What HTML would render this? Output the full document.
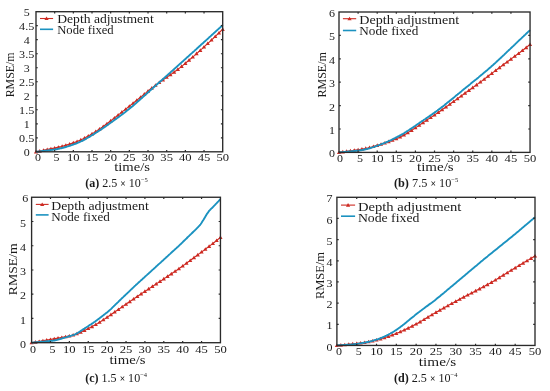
<!DOCTYPE html>
<html><head><meta charset="utf-8"><style>
html,body{margin:0;padding:0;background:#fff;}
svg{display:block;}
text{font-family:'Liberation Serif', serif;fill:#1a1a1a;}
.tk{font-size:10.3px;}
.al{font-size:12px;}
.lg{font-size:11.6px;}
.cap{font-size:12.6px;}
.x{font-size:10px;font-weight:bold;}
.sup{font-size:6.8px;}
</style></head><body>
<svg width="550" height="391" viewBox="0 0 550 391">
<rect width="550" height="391" fill="#fff"/>
<g><polyline points="36.0,151.8 36.9,151.6 37.9,151.4 38.8,151.2 39.7,151.0 40.7,150.8 41.6,150.7 42.5,150.5 43.5,150.3 44.4,150.1 45.3,149.9 46.3,149.7 47.2,149.5 48.1,149.3 49.1,149.1 50.0,148.9 50.9,148.8 51.9,148.6 52.8,148.4 53.7,148.2 54.7,148.0 55.6,147.8 56.5,147.6 57.5,147.4 58.4,147.1 59.3,146.9 60.3,146.7 61.2,146.5 62.1,146.2 63.1,146.0 64.0,145.7 64.9,145.4 65.9,145.2 66.8,144.9 67.7,144.6 68.7,144.3 69.6,144.0 70.5,143.7 71.5,143.4 72.4,143.1 73.3,142.8 74.3,142.5 75.2,142.1 76.1,141.8 77.1,141.4 78.0,141.1 78.9,140.7 79.9,140.3 80.8,139.8 81.7,139.4 82.7,139.0 83.6,138.5 84.5,138.0 85.5,137.5 86.4,137.0 87.3,136.5 88.3,136.0 89.2,135.4 90.1,134.9 91.1,134.3 92.0,133.8 92.9,133.2 93.9,132.7 94.8,132.1 95.7,131.5 96.7,130.9 97.6,130.3 98.5,129.7 99.5,129.0 100.4,128.4 101.3,127.7 102.3,127.1 103.2,126.4 104.1,125.7 105.1,125.0 106.0,124.3 106.9,123.6 107.9,122.9 108.8,122.2 109.7,121.5 110.7,120.8 111.6,120.1 112.5,119.4 113.5,118.6 114.4,117.9 115.3,117.2 116.3,116.5 117.2,115.8 118.1,115.0 119.1,114.3 120.0,113.6 120.9,112.8 121.9,112.1 122.8,111.4 123.7,110.6 124.7,109.9 125.6,109.2 126.5,108.4 127.5,107.7 128.4,106.9 129.3,106.2 130.3,105.5 131.2,104.7 132.2,104.0 133.1,103.2 134.0,102.5 135.0,101.7 135.9,101.0 136.8,100.2 137.8,99.5 138.7,98.7 139.6,97.9 140.6,97.2 141.5,96.4 142.4,95.6 143.4,94.9 144.3,94.1 145.2,93.3 146.2,92.6 147.1,91.8 148.0,91.0 149.0,90.3 149.9,89.5 150.8,88.8 151.8,88.1 152.7,87.3 153.6,86.6 154.6,85.9 155.5,85.2 156.4,84.5 157.4,83.8 158.3,83.1 159.2,82.5 160.2,81.8 161.1,81.1 162.0,80.5 163.0,79.8 163.9,79.2 164.8,78.5 165.8,77.9 166.7,77.2 167.6,76.6 168.6,76.0 169.5,75.3 170.4,74.7 171.4,74.0 172.3,73.4 173.2,72.7 174.2,72.1 175.1,71.4 176.0,70.7 177.0,70.0 177.9,69.3 178.8,68.6 179.8,67.9 180.7,67.1 181.6,66.4 182.6,65.6 183.5,64.8 184.4,64.1 185.4,63.3 186.3,62.5 187.2,61.7 188.2,60.9 189.1,60.1 190.0,59.3 191.0,58.5 191.9,57.7 192.8,56.9 193.8,56.1 194.7,55.3 195.6,54.4 196.6,53.6 197.5,52.8 198.4,52.0 199.4,51.1 200.3,50.3 201.2,49.4 202.2,48.6 203.1,47.8 204.0,46.9 205.0,46.1 205.9,45.2 206.8,44.3 207.8,43.5 208.7,42.6 209.6,41.8 210.6,40.9 211.5,40.0 212.4,39.1 213.4,38.3 214.3,37.4 215.2,36.5 216.2,35.6 217.1,34.7 218.0,33.8 219.0,32.9 219.9,32.0 220.8,31.1 221.8,30.2 222.7,29.3" fill="none" stroke="#CD2A22" stroke-width="1.1"/>
<path d="M36.00 149.80l2.1 3.6h-4.2zM39.73 149.04l2.1 3.6h-4.2zM43.47 148.28l2.1 3.6h-4.2zM47.20 147.52l2.1 3.6h-4.2zM50.94 146.75l2.1 3.6h-4.2zM54.67 145.97l2.1 3.6h-4.2zM58.40 145.14l2.1 3.6h-4.2zM62.14 144.21l2.1 3.6h-4.2zM65.87 143.17l2.1 3.6h-4.2zM69.61 142.03l2.1 3.6h-4.2zM73.34 140.80l2.1 3.6h-4.2zM77.07 139.43l2.1 3.6h-4.2zM80.81 137.84l2.1 3.6h-4.2zM84.54 136.00l2.1 3.6h-4.2zM88.28 133.96l2.1 3.6h-4.2zM92.01 131.79l2.1 3.6h-4.2zM95.74 129.49l2.1 3.6h-4.2zM99.48 127.03l2.1 3.6h-4.2zM103.21 124.39l2.1 3.6h-4.2zM106.95 121.63l2.1 3.6h-4.2zM110.68 118.79l2.1 3.6h-4.2zM114.41 115.92l2.1 3.6h-4.2zM118.15 113.03l2.1 3.6h-4.2zM121.88 110.10l2.1 3.6h-4.2zM125.62 107.16l2.1 3.6h-4.2zM129.35 104.20l2.1 3.6h-4.2zM133.08 101.22l2.1 3.6h-4.2zM136.82 98.21l2.1 3.6h-4.2zM140.55 95.17l2.1 3.6h-4.2zM144.29 92.10l2.1 3.6h-4.2zM148.02 89.04l2.1 3.6h-4.2zM151.75 86.07l2.1 3.6h-4.2zM155.49 83.21l2.1 3.6h-4.2zM159.22 80.47l2.1 3.6h-4.2zM162.96 77.82l2.1 3.6h-4.2zM166.69 75.24l2.1 3.6h-4.2zM170.42 72.67l2.1 3.6h-4.2zM174.16 70.05l2.1 3.6h-4.2zM177.89 67.30l2.1 3.6h-4.2zM181.63 64.37l2.1 3.6h-4.2zM185.36 61.28l2.1 3.6h-4.2zM189.09 58.11l2.1 3.6h-4.2zM192.83 54.89l2.1 3.6h-4.2zM196.56 51.61l2.1 3.6h-4.2zM200.30 48.28l2.1 3.6h-4.2zM204.03 44.90l2.1 3.6h-4.2zM207.76 41.48l2.1 3.6h-4.2zM211.50 38.02l2.1 3.6h-4.2zM215.23 34.50l2.1 3.6h-4.2zM218.97 30.94l2.1 3.6h-4.2zM222.70 27.35l2.1 3.6h-4.2z" fill="#CD2A22"/>
<polyline points="36.0,151.8 36.9,151.7 37.9,151.6 38.8,151.5 39.7,151.4 40.7,151.3 41.6,151.1 42.5,151.0 43.5,150.9 44.4,150.8 45.3,150.7 46.3,150.6 47.2,150.5 48.1,150.4 49.1,150.3 50.0,150.1 50.9,150.0 51.9,149.9 52.8,149.8 53.7,149.6 54.7,149.5 55.6,149.4 56.5,149.2 57.5,149.0 58.4,148.8 59.3,148.7 60.3,148.4 61.2,148.2 62.1,148.0 63.1,147.7 64.0,147.5 64.9,147.2 65.9,147.0 66.8,146.7 67.7,146.4 68.7,146.1 69.6,145.8 70.5,145.5 71.5,145.2 72.4,144.8 73.3,144.5 74.3,144.2 75.2,143.8 76.1,143.5 77.1,143.1 78.0,142.7 78.9,142.3 79.9,141.9 80.8,141.5 81.7,141.0 82.7,140.6 83.6,140.1 84.5,139.6 85.5,139.1 86.4,138.5 87.3,138.0 88.3,137.5 89.2,136.9 90.1,136.4 91.1,135.8 92.0,135.2 92.9,134.7 93.9,134.1 94.8,133.5 95.7,132.9 96.7,132.3 97.6,131.7 98.5,131.1 99.5,130.5 100.4,129.9 101.3,129.3 102.3,128.6 103.2,128.0 104.1,127.4 105.1,126.7 106.0,126.1 106.9,125.4 107.9,124.8 108.8,124.1 109.7,123.4 110.7,122.8 111.6,122.1 112.5,121.4 113.5,120.8 114.4,120.1 115.3,119.4 116.3,118.7 117.2,118.0 118.1,117.4 119.1,116.7 120.0,116.0 120.9,115.3 121.9,114.6 122.8,113.9 123.7,113.2 124.7,112.5 125.6,111.8 126.5,111.0 127.5,110.3 128.4,109.6 129.3,108.8 130.3,108.0 131.2,107.3 132.2,106.5 133.1,105.7 134.0,104.9 135.0,104.1 135.9,103.3 136.8,102.4 137.8,101.6 138.7,100.8 139.6,100.0 140.6,99.1 141.5,98.3 142.4,97.4 143.4,96.6 144.3,95.8 145.2,94.9 146.2,94.1 147.1,93.3 148.0,92.4 149.0,91.6 149.9,90.7 150.8,89.9 151.8,89.1 152.7,88.2 153.6,87.4 154.6,86.6 155.5,85.7 156.4,84.9 157.4,84.1 158.3,83.2 159.2,82.4 160.2,81.6 161.1,80.7 162.0,79.9 163.0,79.1 163.9,78.3 164.8,77.4 165.8,76.6 166.7,75.8 167.6,74.9 168.6,74.1 169.5,73.3 170.4,72.4 171.4,71.6 172.3,70.8 173.2,69.9 174.2,69.1 175.1,68.2 176.0,67.4 177.0,66.6 177.9,65.7 178.8,64.9 179.8,64.0 180.7,63.2 181.6,62.4 182.6,61.5 183.5,60.7 184.4,59.8 185.4,59.0 186.3,58.1 187.2,57.3 188.2,56.5 189.1,55.6 190.0,54.8 191.0,53.9 191.9,53.1 192.8,52.2 193.8,51.4 194.7,50.6 195.6,49.7 196.6,48.9 197.5,48.0 198.4,47.2 199.4,46.3 200.3,45.5 201.2,44.6 202.2,43.8 203.1,43.0 204.0,42.1 205.0,41.3 205.9,40.4 206.8,39.6 207.8,38.7 208.7,37.9 209.6,37.0 210.6,36.2 211.5,35.3 212.4,34.5 213.4,33.6 214.3,32.8 215.2,31.9 216.2,31.1 217.1,30.2 218.0,29.4 219.0,28.5 219.9,27.7 220.8,26.8 221.8,26.0 222.7,25.1" fill="none" stroke="#1B92C0" stroke-width="1.9" stroke-linejoin="round"/>
<rect x="36.00" y="11.70" width="186.70" height="140.10" fill="none" stroke="#2a2a2a" stroke-width="1.35"/>
<path d="M54.67 151.80v-1.8M54.67 11.70v1.8M73.34 151.80v-1.8M73.34 11.70v1.8M92.01 151.80v-1.8M92.01 11.70v1.8M110.68 151.80v-1.8M110.68 11.70v1.8M129.35 151.80v-1.8M129.35 11.70v1.8M148.02 151.80v-1.8M148.02 11.70v1.8M166.69 151.80v-1.8M166.69 11.70v1.8M185.36 151.80v-1.8M185.36 11.70v1.8M204.03 151.80v-1.8M204.03 11.70v1.8M36.00 137.79h1.8M222.70 137.79h-1.8M36.00 123.78h1.8M222.70 123.78h-1.8M36.00 109.77h1.8M222.70 109.77h-1.8M36.00 95.76h1.8M222.70 95.76h-1.8M36.00 81.75h1.8M222.70 81.75h-1.8M36.00 67.74h1.8M222.70 67.74h-1.8M36.00 53.73h1.8M222.70 53.73h-1.8M36.00 39.72h1.8M222.70 39.72h-1.8M36.00 25.71h1.8M222.70 25.71h-1.8" stroke="#2a2a2a" stroke-width="1.2" fill="none"/>
<text x="26.70" y="156.20" class="tk" style="font-size:10.3px" text-anchor="middle" textLength="6.0" lengthAdjust="spacingAndGlyphs">0</text>
<text x="26.70" y="142.19" class="tk" style="font-size:10.3px" text-anchor="middle" textLength="15.2" lengthAdjust="spacingAndGlyphs">0.5</text>
<text x="26.70" y="128.18" class="tk" style="font-size:10.3px" text-anchor="middle" textLength="6.0" lengthAdjust="spacingAndGlyphs">1</text>
<text x="26.70" y="114.17" class="tk" style="font-size:10.3px" text-anchor="middle" textLength="15.2" lengthAdjust="spacingAndGlyphs">1.5</text>
<text x="26.70" y="100.16" class="tk" style="font-size:10.3px" text-anchor="middle" textLength="6.0" lengthAdjust="spacingAndGlyphs">2</text>
<text x="26.70" y="86.15" class="tk" style="font-size:10.3px" text-anchor="middle" textLength="15.2" lengthAdjust="spacingAndGlyphs">2.5</text>
<text x="26.70" y="72.14" class="tk" style="font-size:10.3px" text-anchor="middle" textLength="6.0" lengthAdjust="spacingAndGlyphs">3</text>
<text x="26.70" y="58.13" class="tk" style="font-size:10.3px" text-anchor="middle" textLength="15.2" lengthAdjust="spacingAndGlyphs">3.5</text>
<text x="26.70" y="44.12" class="tk" style="font-size:10.3px" text-anchor="middle" textLength="6.0" lengthAdjust="spacingAndGlyphs">4</text>
<text x="26.70" y="30.11" class="tk" style="font-size:10.3px" text-anchor="middle" textLength="15.2" lengthAdjust="spacingAndGlyphs">4.5</text>
<text x="26.70" y="16.10" class="tk" style="font-size:10.3px" text-anchor="middle" textLength="6.0" lengthAdjust="spacingAndGlyphs">5</text>
<text x="38.00" y="161.00" class="tk" style="font-size:10.3px" text-anchor="middle" textLength="6.0" lengthAdjust="spacingAndGlyphs">0</text>
<text x="56.50" y="161.00" class="tk" style="font-size:10.3px" text-anchor="middle" textLength="6.0" lengthAdjust="spacingAndGlyphs">5</text>
<text x="73.34" y="161.00" class="tk" style="font-size:10.3px" text-anchor="middle" textLength="12.6" lengthAdjust="spacingAndGlyphs">10</text>
<text x="92.01" y="161.00" class="tk" style="font-size:10.3px" text-anchor="middle" textLength="12.6" lengthAdjust="spacingAndGlyphs">15</text>
<text x="110.68" y="161.00" class="tk" style="font-size:10.3px" text-anchor="middle" textLength="12.6" lengthAdjust="spacingAndGlyphs">20</text>
<text x="129.35" y="161.00" class="tk" style="font-size:10.3px" text-anchor="middle" textLength="12.6" lengthAdjust="spacingAndGlyphs">25</text>
<text x="148.02" y="161.00" class="tk" style="font-size:10.3px" text-anchor="middle" textLength="12.6" lengthAdjust="spacingAndGlyphs">30</text>
<text x="166.69" y="161.00" class="tk" style="font-size:10.3px" text-anchor="middle" textLength="12.6" lengthAdjust="spacingAndGlyphs">35</text>
<text x="185.36" y="161.00" class="tk" style="font-size:10.3px" text-anchor="middle" textLength="12.6" lengthAdjust="spacingAndGlyphs">40</text>
<text x="204.03" y="161.00" class="tk" style="font-size:10.3px" text-anchor="middle" textLength="12.6" lengthAdjust="spacingAndGlyphs">45</text>
<text x="222.70" y="161.00" class="tk" style="font-size:10.3px" text-anchor="middle" textLength="12.6" lengthAdjust="spacingAndGlyphs">50</text>
<text x="114.20" y="170.50" class="al" textLength="35.9" lengthAdjust="spacingAndGlyphs">time/s</text>
<text transform="translate(14.30 97.30) rotate(-90)" class="al" textLength="44.9" lengthAdjust="spacingAndGlyphs">RMSE/m</text>
<path d="M40.00 18.50H53.10" stroke="#CD2A22" stroke-width="1.1"/>
<path d="M46.55 16.50l2.1 3.6h-4.2z" fill="#CD2A22"/>
<path d="M40.00 29.30H53.10" stroke="#1B92C0" stroke-width="1.6"/>
<text x="57.20" y="23.40" class="lg" textLength="96.5" lengthAdjust="spacingAndGlyphs">Depth adjustment</text>
<text x="57.20" y="33.70" class="lg" textLength="56.5" lengthAdjust="spacingAndGlyphs">Node fixed</text>
<text x="85.20" y="186.90" class="cap" textLength="62.6" lengthAdjust="spacingAndGlyphs"><tspan font-weight="bold">(a)</tspan> 2.5 <tspan class="x">×</tspan> 10<tspan class="sup" dy="-4.8">−5</tspan></text></g>
<g><polyline points="339.0,152.4 340.0,152.3 340.9,152.1 341.9,152.0 342.8,151.9 343.8,151.7 344.7,151.6 345.7,151.5 346.6,151.3 347.6,151.2 348.6,151.1 349.5,150.9 350.5,150.8 351.4,150.7 352.4,150.5 353.3,150.4 354.3,150.2 355.2,150.1 356.2,150.0 357.1,149.8 358.1,149.7 359.1,149.5 360.0,149.4 361.0,149.2 361.9,149.1 362.9,148.9 363.8,148.7 364.8,148.6 365.7,148.4 366.7,148.2 367.7,148.0 368.6,147.7 369.6,147.5 370.5,147.3 371.5,147.0 372.4,146.7 373.4,146.5 374.3,146.2 375.3,145.9 376.3,145.6 377.2,145.4 378.2,145.1 379.1,144.8 380.1,144.5 381.0,144.2 382.0,143.8 382.9,143.5 383.9,143.2 384.9,142.9 385.8,142.6 386.8,142.2 387.7,141.9 388.7,141.6 389.6,141.2 390.6,140.9 391.5,140.5 392.5,140.1 393.4,139.8 394.4,139.4 395.4,139.0 396.3,138.6 397.3,138.2 398.2,137.8 399.2,137.4 400.1,136.9 401.1,136.5 402.0,136.0 403.0,135.5 404.0,135.0 404.9,134.4 405.9,133.9 406.8,133.3 407.8,132.7 408.7,132.1 409.7,131.5 410.6,130.9 411.6,130.3 412.6,129.7 413.5,129.0 414.5,128.4 415.4,127.8 416.4,127.1 417.3,126.5 418.3,125.9 419.2,125.2 420.2,124.6 421.2,123.9 422.1,123.3 423.1,122.6 424.0,122.0 425.0,121.4 425.9,120.7 426.9,120.1 427.8,119.4 428.8,118.8 429.7,118.2 430.7,117.5 431.7,116.9 432.6,116.2 433.6,115.6 434.5,114.9 435.5,114.3 436.4,113.6 437.4,113.0 438.3,112.3 439.3,111.7 440.3,111.0 441.2,110.3 442.2,109.7 443.1,109.0 444.1,108.3 445.0,107.7 446.0,107.0 446.9,106.3 447.9,105.6 448.9,104.9 449.8,104.2 450.8,103.5 451.7,102.8 452.7,102.2 453.6,101.5 454.6,100.8 455.5,100.1 456.5,99.4 457.5,98.7 458.4,98.0 459.4,97.3 460.3,96.6 461.3,95.9 462.2,95.2 463.2,94.5 464.1,93.8 465.1,93.1 466.0,92.4 467.0,91.7 468.0,91.0 468.9,90.3 469.9,89.7 470.8,89.0 471.8,88.3 472.7,87.6 473.7,86.9 474.6,86.2 475.6,85.5 476.6,84.8 477.5,84.1 478.5,83.4 479.4,82.7 480.4,82.0 481.3,81.3 482.3,80.6 483.2,79.9 484.2,79.2 485.2,78.4 486.1,77.7 487.1,77.0 488.0,76.3 489.0,75.5 489.9,74.8 490.9,74.1 491.8,73.3 492.8,72.6 493.8,71.9 494.7,71.2 495.7,70.5 496.6,69.7 497.6,69.0 498.5,68.3 499.5,67.6 500.4,66.9 501.4,66.2 502.3,65.4 503.3,64.7 504.3,64.0 505.2,63.3 506.2,62.6 507.1,61.9 508.1,61.2 509.0,60.5 510.0,59.8 510.9,59.1 511.9,58.4 512.9,57.6 513.8,56.9 514.8,56.2 515.7,55.5 516.7,54.8 517.6,54.1 518.6,53.4 519.5,52.7 520.5,52.0 521.5,51.2 522.4,50.5 523.4,49.8 524.3,49.0 525.3,48.3 526.2,47.5 527.2,46.8 528.1,46.0 529.1,45.2 530.0,44.4" fill="none" stroke="#CD2A22" stroke-width="1.1"/>
<path d="M339.00 150.40l2.1 3.6h-4.2zM342.82 149.86l2.1 3.6h-4.2zM346.64 149.32l2.1 3.6h-4.2zM350.46 148.79l2.1 3.6h-4.2zM354.28 148.25l2.1 3.6h-4.2zM358.11 147.69l2.1 3.6h-4.2zM361.93 147.09l2.1 3.6h-4.2zM365.75 146.37l2.1 3.6h-4.2zM369.57 145.50l2.1 3.6h-4.2zM373.39 144.48l2.1 3.6h-4.2zM377.21 143.35l2.1 3.6h-4.2zM381.03 142.16l2.1 3.6h-4.2zM384.85 140.90l2.1 3.6h-4.2zM388.67 139.56l2.1 3.6h-4.2zM392.49 138.14l2.1 3.6h-4.2zM396.31 136.62l2.1 3.6h-4.2zM400.14 134.93l2.1 3.6h-4.2zM403.96 132.97l2.1 3.6h-4.2zM407.78 130.74l2.1 3.6h-4.2zM411.60 128.30l2.1 3.6h-4.2zM415.42 125.77l2.1 3.6h-4.2zM419.24 123.21l2.1 3.6h-4.2zM423.06 120.65l2.1 3.6h-4.2zM426.88 118.08l2.1 3.6h-4.2zM430.70 115.51l2.1 3.6h-4.2zM434.52 112.93l2.1 3.6h-4.2zM438.35 110.33l2.1 3.6h-4.2zM442.17 107.68l2.1 3.6h-4.2zM445.99 104.98l2.1 3.6h-4.2zM449.81 102.23l2.1 3.6h-4.2zM453.63 99.46l2.1 3.6h-4.2zM457.45 96.67l2.1 3.6h-4.2zM461.27 93.89l2.1 3.6h-4.2zM465.09 91.11l2.1 3.6h-4.2zM468.91 88.34l2.1 3.6h-4.2zM472.73 85.58l2.1 3.6h-4.2zM476.56 82.81l2.1 3.6h-4.2zM480.38 80.01l2.1 3.6h-4.2zM484.20 77.15l2.1 3.6h-4.2zM488.02 74.26l2.1 3.6h-4.2zM491.84 71.35l2.1 3.6h-4.2zM495.66 68.45l2.1 3.6h-4.2zM499.48 65.59l2.1 3.6h-4.2zM503.30 62.74l2.1 3.6h-4.2zM507.12 59.90l2.1 3.6h-4.2zM510.94 57.07l2.1 3.6h-4.2zM514.77 54.23l2.1 3.6h-4.2zM518.59 51.39l2.1 3.6h-4.2zM522.41 48.51l2.1 3.6h-4.2zM526.23 45.54l2.1 3.6h-4.2zM530.05 42.42l2.1 3.6h-4.2z" fill="#CD2A22"/>
<polyline points="339.0,152.4 340.0,152.3 340.9,152.2 341.9,152.1 342.8,152.1 343.8,152.0 344.7,151.9 345.7,151.8 346.6,151.7 347.6,151.6 348.6,151.5 349.5,151.5 350.5,151.4 351.4,151.3 352.4,151.2 353.3,151.1 354.3,151.0 355.2,150.9 356.2,150.8 357.1,150.7 358.1,150.6 359.1,150.5 360.0,150.4 361.0,150.2 361.9,150.1 362.9,149.9 363.8,149.7 364.8,149.5 365.7,149.3 366.7,149.1 367.7,148.8 368.6,148.6 369.6,148.3 370.5,148.0 371.5,147.7 372.4,147.4 373.4,147.1 374.3,146.8 375.3,146.4 376.3,146.1 377.2,145.7 378.2,145.4 379.1,145.1 380.1,144.7 381.0,144.3 382.0,144.0 382.9,143.6 383.9,143.2 384.9,142.8 385.8,142.4 386.8,142.0 387.7,141.6 388.7,141.1 389.6,140.7 390.6,140.3 391.5,139.8 392.5,139.3 393.4,138.9 394.4,138.4 395.4,137.9 396.3,137.4 397.3,136.9 398.2,136.4 399.2,135.9 400.1,135.4 401.1,134.9 402.0,134.3 403.0,133.8 404.0,133.2 404.9,132.6 405.9,132.0 406.8,131.4 407.8,130.8 408.7,130.2 409.7,129.5 410.6,128.9 411.6,128.3 412.6,127.6 413.5,127.0 414.5,126.3 415.4,125.7 416.4,125.0 417.3,124.4 418.3,123.7 419.2,123.1 420.2,122.4 421.2,121.8 422.1,121.1 423.1,120.5 424.0,119.8 425.0,119.2 425.9,118.5 426.9,117.9 427.8,117.2 428.8,116.6 429.7,115.9 430.7,115.2 431.7,114.6 432.6,113.9 433.6,113.2 434.5,112.6 435.5,111.9 436.4,111.2 437.4,110.5 438.3,109.8 439.3,109.1 440.3,108.4 441.2,107.6 442.2,106.9 443.1,106.2 444.1,105.4 445.0,104.6 446.0,103.9 446.9,103.1 447.9,102.3 448.9,101.6 449.8,100.8 450.8,100.0 451.7,99.2 452.7,98.4 453.6,97.7 454.6,96.9 455.5,96.1 456.5,95.3 457.5,94.5 458.4,93.7 459.4,93.0 460.3,92.2 461.3,91.4 462.2,90.6 463.2,89.8 464.1,89.0 465.1,88.3 466.0,87.5 467.0,86.7 468.0,85.9 468.9,85.2 469.9,84.4 470.8,83.6 471.8,82.8 472.7,82.1 473.7,81.3 474.6,80.5 475.6,79.7 476.6,79.0 477.5,78.2 478.5,77.4 479.4,76.6 480.4,75.8 481.3,75.0 482.3,74.2 483.2,73.4 484.2,72.6 485.2,71.8 486.1,71.0 487.1,70.2 488.0,69.4 489.0,68.5 489.9,67.7 490.9,66.9 491.8,66.0 492.8,65.2 493.8,64.3 494.7,63.5 495.7,62.6 496.6,61.7 497.6,60.8 498.5,59.9 499.5,59.1 500.4,58.2 501.4,57.3 502.3,56.4 503.3,55.5 504.3,54.6 505.2,53.6 506.2,52.7 507.1,51.8 508.1,50.9 509.0,50.0 510.0,49.1 510.9,48.2 511.9,47.3 512.9,46.4 513.8,45.5 514.8,44.6 515.7,43.6 516.7,42.7 517.6,41.8 518.6,40.9 519.5,40.0 520.5,39.1 521.5,38.2 522.4,37.3 523.4,36.4 524.3,35.5 525.3,34.6 526.2,33.7 527.2,32.8 528.1,31.9 529.1,31.0 530.0,30.1" fill="none" stroke="#1B92C0" stroke-width="1.9" stroke-linejoin="round"/>
<rect x="339.00" y="12.00" width="191.05" height="140.40" fill="none" stroke="#2a2a2a" stroke-width="1.35"/>
<path d="M358.11 152.40v-1.8M358.11 12.00v1.8M377.21 152.40v-1.8M377.21 12.00v1.8M396.31 152.40v-1.8M396.31 12.00v1.8M415.42 152.40v-1.8M415.42 12.00v1.8M434.52 152.40v-1.8M434.52 12.00v1.8M453.63 152.40v-1.8M453.63 12.00v1.8M472.73 152.40v-1.8M472.73 12.00v1.8M491.84 152.40v-1.8M491.84 12.00v1.8M510.94 152.40v-1.8M510.94 12.00v1.8M339.00 129.00h1.8M530.05 129.00h-1.8M339.00 105.60h1.8M530.05 105.60h-1.8M339.00 82.20h1.8M530.05 82.20h-1.8M339.00 58.80h1.8M530.05 58.80h-1.8M339.00 35.40h1.8M530.05 35.40h-1.8" stroke="#2a2a2a" stroke-width="1.2" fill="none"/>
<text x="332.00" y="157.40" class="tk" style="font-size:10.3px" text-anchor="middle" textLength="6.0" lengthAdjust="spacingAndGlyphs">0</text>
<text x="332.00" y="134.00" class="tk" style="font-size:10.3px" text-anchor="middle" textLength="6.0" lengthAdjust="spacingAndGlyphs">1</text>
<text x="332.00" y="110.60" class="tk" style="font-size:10.3px" text-anchor="middle" textLength="6.0" lengthAdjust="spacingAndGlyphs">2</text>
<text x="332.00" y="87.20" class="tk" style="font-size:10.3px" text-anchor="middle" textLength="6.0" lengthAdjust="spacingAndGlyphs">3</text>
<text x="332.00" y="63.80" class="tk" style="font-size:10.3px" text-anchor="middle" textLength="6.0" lengthAdjust="spacingAndGlyphs">4</text>
<text x="332.00" y="40.40" class="tk" style="font-size:10.3px" text-anchor="middle" textLength="6.0" lengthAdjust="spacingAndGlyphs">5</text>
<text x="332.00" y="17.00" class="tk" style="font-size:10.3px" text-anchor="middle" textLength="6.0" lengthAdjust="spacingAndGlyphs">6</text>
<text x="340.00" y="161.80" class="tk" style="font-size:10.3px" text-anchor="middle" textLength="6.0" lengthAdjust="spacingAndGlyphs">0</text>
<text x="360.00" y="161.80" class="tk" style="font-size:10.3px" text-anchor="middle" textLength="6.0" lengthAdjust="spacingAndGlyphs">5</text>
<text x="377.21" y="161.80" class="tk" style="font-size:10.3px" text-anchor="middle" textLength="12.6" lengthAdjust="spacingAndGlyphs">10</text>
<text x="396.31" y="161.80" class="tk" style="font-size:10.3px" text-anchor="middle" textLength="12.6" lengthAdjust="spacingAndGlyphs">15</text>
<text x="415.42" y="161.80" class="tk" style="font-size:10.3px" text-anchor="middle" textLength="12.6" lengthAdjust="spacingAndGlyphs">20</text>
<text x="434.52" y="161.80" class="tk" style="font-size:10.3px" text-anchor="middle" textLength="12.6" lengthAdjust="spacingAndGlyphs">25</text>
<text x="453.63" y="161.80" class="tk" style="font-size:10.3px" text-anchor="middle" textLength="12.6" lengthAdjust="spacingAndGlyphs">30</text>
<text x="472.73" y="161.80" class="tk" style="font-size:10.3px" text-anchor="middle" textLength="12.6" lengthAdjust="spacingAndGlyphs">35</text>
<text x="491.84" y="161.80" class="tk" style="font-size:10.3px" text-anchor="middle" textLength="12.6" lengthAdjust="spacingAndGlyphs">40</text>
<text x="510.94" y="161.80" class="tk" style="font-size:10.3px" text-anchor="middle" textLength="12.6" lengthAdjust="spacingAndGlyphs">45</text>
<text x="530.05" y="161.80" class="tk" style="font-size:10.3px" text-anchor="middle" textLength="12.6" lengthAdjust="spacingAndGlyphs">50</text>
<text x="417.00" y="171.00" class="al" textLength="36.7" lengthAdjust="spacingAndGlyphs">time/s</text>
<text transform="translate(326.00 97.60) rotate(-90)" class="al" textLength="45.5" lengthAdjust="spacingAndGlyphs">RMSE/m</text>
<path d="M342.90 18.70H356.20" stroke="#CD2A22" stroke-width="1.1"/>
<path d="M349.55 16.70l2.1 3.6h-4.2z" fill="#CD2A22"/>
<path d="M342.90 30.50H356.20" stroke="#1B92C0" stroke-width="1.6"/>
<text x="359.30" y="23.60" class="lg" textLength="100.0" lengthAdjust="spacingAndGlyphs">Depth adjustment</text>
<text x="359.30" y="34.60" class="lg" textLength="59.0" lengthAdjust="spacingAndGlyphs">Node fixed</text>
<text x="393.90" y="187.20" class="cap" textLength="64.5" lengthAdjust="spacingAndGlyphs"><tspan font-weight="bold">(b)</tspan> 7.5 <tspan class="x">×</tspan> 10<tspan class="sup" dy="-4.8">−5</tspan></text></g>
<g><polyline points="31.6,342.7 32.5,342.5 33.5,342.4 34.4,342.2 35.4,342.0 36.3,341.9 37.3,341.7 38.2,341.6 39.2,341.4 40.1,341.2 41.0,341.1 42.0,340.9 42.9,340.7 43.9,340.6 44.8,340.4 45.8,340.3 46.7,340.1 47.7,339.9 48.6,339.8 49.5,339.6 50.5,339.4 51.4,339.3 52.4,339.1 53.3,338.9 54.3,338.8 55.2,338.6 56.2,338.4 57.1,338.3 58.0,338.1 59.0,337.9 59.9,337.8 60.9,337.6 61.8,337.4 62.8,337.3 63.7,337.1 64.6,336.9 65.6,336.7 66.5,336.5 67.5,336.3 68.4,336.1 69.4,335.9 70.3,335.7 71.3,335.5 72.2,335.2 73.1,334.9 74.1,334.7 75.0,334.4 76.0,334.0 76.9,333.7 77.9,333.3 78.8,333.0 79.8,332.6 80.7,332.1 81.6,331.7 82.6,331.3 83.5,330.8 84.5,330.4 85.4,329.9 86.4,329.5 87.3,329.0 88.3,328.5 89.2,328.0 90.1,327.6 91.1,327.1 92.0,326.6 93.0,326.1 93.9,325.5 94.9,325.0 95.8,324.5 96.8,323.9 97.7,323.4 98.6,322.8 99.6,322.2 100.5,321.6 101.5,321.0 102.4,320.4 103.4,319.8 104.3,319.1 105.3,318.5 106.2,317.9 107.1,317.2 108.1,316.6 109.0,315.9 110.0,315.3 110.9,314.6 111.9,314.0 112.8,313.3 113.7,312.7 114.7,312.0 115.6,311.3 116.6,310.7 117.5,310.0 118.5,309.4 119.4,308.7 120.4,308.1 121.3,307.4 122.2,306.8 123.2,306.1 124.1,305.5 125.1,304.8 126.0,304.1 127.0,303.5 127.9,302.8 128.9,302.2 129.8,301.5 130.7,300.9 131.7,300.2 132.6,299.6 133.6,298.9 134.5,298.3 135.5,297.7 136.4,297.0 137.4,296.4 138.3,295.8 139.2,295.1 140.2,294.5 141.1,293.9 142.1,293.2 143.0,292.6 144.0,292.0 144.9,291.3 145.9,290.7 146.8,290.1 147.7,289.5 148.7,288.8 149.6,288.2 150.6,287.6 151.5,287.0 152.5,286.3 153.4,285.7 154.4,285.1 155.3,284.4 156.2,283.8 157.2,283.2 158.1,282.6 159.1,281.9 160.0,281.3 161.0,280.7 161.9,280.1 162.9,279.4 163.8,278.8 164.7,278.2 165.7,277.6 166.6,276.9 167.6,276.3 168.5,275.7 169.5,275.0 170.4,274.4 171.3,273.8 172.3,273.2 173.2,272.5 174.2,271.9 175.1,271.2 176.1,270.6 177.0,270.0 178.0,269.3 178.9,268.6 179.8,268.0 180.8,267.3 181.7,266.6 182.7,266.0 183.6,265.3 184.6,264.6 185.5,263.9 186.5,263.2 187.4,262.5 188.3,261.8 189.3,261.1 190.2,260.4 191.2,259.7 192.1,259.0 193.1,258.3 194.0,257.6 195.0,256.9 195.9,256.2 196.8,255.5 197.8,254.8 198.7,254.1 199.7,253.4 200.6,252.7 201.6,252.0 202.5,251.3 203.5,250.6 204.4,249.9 205.3,249.2 206.3,248.5 207.2,247.7 208.2,247.0 209.1,246.3 210.1,245.6 211.0,244.9 212.0,244.2 212.9,243.5 213.8,242.7 214.8,242.0 215.7,241.2 216.7,240.5 217.6,239.7 218.6,238.9 219.5,238.1 220.4,237.3" fill="none" stroke="#CD2A22" stroke-width="1.1"/>
<path d="M31.60 340.70l2.1 3.6h-4.2zM35.38 340.05l2.1 3.6h-4.2zM39.15 339.40l2.1 3.6h-4.2zM42.93 338.75l2.1 3.6h-4.2zM46.71 338.09l2.1 3.6h-4.2zM50.48 337.44l2.1 3.6h-4.2zM54.26 336.78l2.1 3.6h-4.2zM58.04 336.11l2.1 3.6h-4.2zM61.82 335.42l2.1 3.6h-4.2zM65.59 334.71l2.1 3.6h-4.2zM69.37 333.92l2.1 3.6h-4.2zM73.15 332.95l2.1 3.6h-4.2zM76.92 331.69l2.1 3.6h-4.2zM80.70 330.14l2.1 3.6h-4.2zM84.48 328.38l2.1 3.6h-4.2zM88.25 326.52l2.1 3.6h-4.2zM92.03 324.56l2.1 3.6h-4.2zM95.81 322.48l2.1 3.6h-4.2zM99.59 320.21l2.1 3.6h-4.2zM103.36 317.77l2.1 3.6h-4.2zM107.14 315.22l2.1 3.6h-4.2zM110.92 312.62l2.1 3.6h-4.2zM114.69 310.00l2.1 3.6h-4.2zM118.47 307.38l2.1 3.6h-4.2zM122.25 304.76l2.1 3.6h-4.2zM126.03 302.15l2.1 3.6h-4.2zM129.80 299.54l2.1 3.6h-4.2zM133.58 296.95l2.1 3.6h-4.2zM137.36 294.39l2.1 3.6h-4.2zM141.13 291.86l2.1 3.6h-4.2zM144.91 289.34l2.1 3.6h-4.2zM148.69 286.83l2.1 3.6h-4.2zM152.46 284.33l2.1 3.6h-4.2zM156.24 281.82l2.1 3.6h-4.2zM160.02 279.32l2.1 3.6h-4.2zM163.79 276.81l2.1 3.6h-4.2zM167.57 274.30l2.1 3.6h-4.2zM171.35 271.79l2.1 3.6h-4.2zM175.13 269.24l2.1 3.6h-4.2zM178.90 266.64l2.1 3.6h-4.2zM182.68 263.97l2.1 3.6h-4.2zM186.46 261.22l2.1 3.6h-4.2zM190.23 258.42l2.1 3.6h-4.2zM194.01 255.61l2.1 3.6h-4.2zM197.79 252.80l2.1 3.6h-4.2zM201.56 249.98l2.1 3.6h-4.2zM205.34 247.16l2.1 3.6h-4.2zM209.12 244.33l2.1 3.6h-4.2zM212.90 241.46l2.1 3.6h-4.2zM216.67 238.48l2.1 3.6h-4.2zM220.45 235.32l2.1 3.6h-4.2z" fill="#CD2A22"/>
<polyline points="31.6,342.7 32.5,342.6 33.5,342.5 34.4,342.4 35.4,342.3 36.3,342.3 37.3,342.2 38.2,342.1 39.2,342.0 40.1,341.9 41.0,341.8 42.0,341.7 42.9,341.6 43.9,341.6 44.8,341.5 45.8,341.4 46.7,341.3 47.7,341.2 48.6,341.1 49.5,341.0 50.5,340.9 51.4,340.9 52.4,340.8 53.3,340.6 54.3,340.5 55.2,340.3 56.2,340.1 57.1,339.9 58.0,339.6 59.0,339.3 59.9,339.1 60.9,338.8 61.8,338.5 62.8,338.2 63.7,337.9 64.6,337.7 65.6,337.4 66.5,337.1 67.5,336.8 68.4,336.5 69.4,336.3 70.3,336.0 71.3,335.7 72.2,335.4 73.1,335.1 74.1,334.8 75.0,334.4 76.0,333.9 76.9,333.4 77.9,332.8 78.8,332.2 79.8,331.6 80.7,331.0 81.6,330.4 82.6,329.8 83.5,329.1 84.5,328.5 85.4,327.9 86.4,327.3 87.3,326.7 88.3,326.1 89.2,325.4 90.1,324.8 91.1,324.2 92.0,323.6 93.0,323.0 93.9,322.3 94.9,321.7 95.8,321.0 96.8,320.3 97.7,319.6 98.6,318.9 99.6,318.2 100.5,317.4 101.5,316.7 102.4,316.0 103.4,315.3 104.3,314.5 105.3,313.8 106.2,313.1 107.1,312.4 108.1,311.6 109.0,310.8 110.0,309.9 110.9,309.1 111.9,308.1 112.8,307.2 113.7,306.3 114.7,305.4 115.6,304.4 116.6,303.5 117.5,302.6 118.5,301.7 119.4,300.7 120.4,299.8 121.3,298.9 122.2,298.0 123.2,297.1 124.1,296.2 125.1,295.3 126.0,294.4 127.0,293.5 127.9,292.6 128.9,291.7 129.8,290.8 130.7,289.9 131.7,289.0 132.6,288.1 133.6,287.2 134.5,286.3 135.5,285.4 136.4,284.5 137.4,283.7 138.3,282.8 139.2,282.0 140.2,281.1 141.1,280.2 142.1,279.4 143.0,278.5 144.0,277.7 144.9,276.8 145.9,275.9 146.8,275.1 147.7,274.2 148.7,273.4 149.6,272.5 150.6,271.7 151.5,270.8 152.5,269.9 153.4,269.1 154.4,268.2 155.3,267.4 156.2,266.5 157.2,265.6 158.1,264.8 159.1,263.9 160.0,263.1 161.0,262.2 161.9,261.3 162.9,260.5 163.8,259.6 164.7,258.7 165.7,257.9 166.6,257.0 167.6,256.2 168.5,255.3 169.5,254.4 170.4,253.6 171.3,252.7 172.3,251.8 173.2,251.0 174.2,250.1 175.1,249.3 176.1,248.4 177.0,247.5 178.0,246.7 178.9,245.8 179.8,244.9 180.8,244.0 181.7,243.1 182.7,242.2 183.6,241.2 184.6,240.3 185.5,239.4 186.5,238.5 187.4,237.5 188.3,236.6 189.3,235.7 190.2,234.8 191.2,233.9 192.1,233.0 193.1,232.0 194.0,231.1 195.0,230.2 195.9,229.3 196.8,228.4 197.8,227.4 198.7,226.4 199.7,225.4 200.6,224.2 201.6,222.8 202.5,221.3 203.5,219.8 204.4,218.2 205.3,216.7 206.3,215.1 207.2,213.6 208.2,212.2 209.1,210.9 210.1,209.9 211.0,208.9 212.0,208.0 212.9,207.1 213.8,206.2 214.8,205.2 215.7,204.2 216.7,203.2 217.6,202.2 218.6,201.2 219.5,200.2 220.4,199.2" fill="none" stroke="#1B92C0" stroke-width="1.9" stroke-linejoin="round"/>
<rect x="31.60" y="197.25" width="188.85" height="145.45" fill="none" stroke="#2a2a2a" stroke-width="1.35"/>
<path d="M50.48 342.70v-1.8M50.48 197.25v1.8M69.37 342.70v-1.8M69.37 197.25v1.8M88.25 342.70v-1.8M88.25 197.25v1.8M107.14 342.70v-1.8M107.14 197.25v1.8M126.03 342.70v-1.8M126.03 197.25v1.8M144.91 342.70v-1.8M144.91 197.25v1.8M163.79 342.70v-1.8M163.79 197.25v1.8M182.68 342.70v-1.8M182.68 197.25v1.8M201.56 342.70v-1.8M201.56 197.25v1.8M31.60 318.46h1.8M220.45 318.46h-1.8M31.60 294.22h1.8M220.45 294.22h-1.8M31.60 269.98h1.8M220.45 269.98h-1.8M31.60 245.73h1.8M220.45 245.73h-1.8M31.60 221.49h1.8M220.45 221.49h-1.8" stroke="#2a2a2a" stroke-width="1.2" fill="none"/>
<text x="23.00" y="347.90" class="tk" style="font-size:11.0px" text-anchor="middle" textLength="6.0" lengthAdjust="spacingAndGlyphs">0</text>
<text x="23.00" y="323.66" class="tk" style="font-size:11.0px" text-anchor="middle" textLength="6.0" lengthAdjust="spacingAndGlyphs">1</text>
<text x="23.00" y="299.42" class="tk" style="font-size:11.0px" text-anchor="middle" textLength="6.0" lengthAdjust="spacingAndGlyphs">2</text>
<text x="23.00" y="275.18" class="tk" style="font-size:11.0px" text-anchor="middle" textLength="6.0" lengthAdjust="spacingAndGlyphs">3</text>
<text x="23.00" y="250.93" class="tk" style="font-size:11.0px" text-anchor="middle" textLength="6.0" lengthAdjust="spacingAndGlyphs">4</text>
<text x="23.00" y="226.69" class="tk" style="font-size:11.0px" text-anchor="middle" textLength="6.0" lengthAdjust="spacingAndGlyphs">5</text>
<text x="25.20" y="202.45" class="tk" style="font-size:11.0px" text-anchor="middle" textLength="6.0" lengthAdjust="spacingAndGlyphs">6</text>
<text x="33.10" y="352.70" class="tk" style="font-size:11.0px" text-anchor="middle" textLength="6.0" lengthAdjust="spacingAndGlyphs">0</text>
<text x="52.50" y="352.70" class="tk" style="font-size:11.0px" text-anchor="middle" textLength="6.0" lengthAdjust="spacingAndGlyphs">5</text>
<text x="69.37" y="352.70" class="tk" style="font-size:11.0px" text-anchor="middle" textLength="12.6" lengthAdjust="spacingAndGlyphs">10</text>
<text x="88.25" y="352.70" class="tk" style="font-size:11.0px" text-anchor="middle" textLength="12.6" lengthAdjust="spacingAndGlyphs">15</text>
<text x="107.14" y="352.70" class="tk" style="font-size:11.0px" text-anchor="middle" textLength="12.6" lengthAdjust="spacingAndGlyphs">20</text>
<text x="126.03" y="352.70" class="tk" style="font-size:11.0px" text-anchor="middle" textLength="12.6" lengthAdjust="spacingAndGlyphs">25</text>
<text x="144.91" y="352.70" class="tk" style="font-size:11.0px" text-anchor="middle" textLength="12.6" lengthAdjust="spacingAndGlyphs">30</text>
<text x="163.79" y="352.70" class="tk" style="font-size:11.0px" text-anchor="middle" textLength="12.6" lengthAdjust="spacingAndGlyphs">35</text>
<text x="182.68" y="352.70" class="tk" style="font-size:11.0px" text-anchor="middle" textLength="12.6" lengthAdjust="spacingAndGlyphs">40</text>
<text x="201.56" y="352.70" class="tk" style="font-size:11.0px" text-anchor="middle" textLength="12.6" lengthAdjust="spacingAndGlyphs">45</text>
<text x="220.45" y="352.70" class="tk" style="font-size:11.0px" text-anchor="middle" textLength="12.6" lengthAdjust="spacingAndGlyphs">50</text>
<text x="109.50" y="363.80" class="al" textLength="36.1" lengthAdjust="spacingAndGlyphs">time/s</text>
<text transform="translate(17.00 295.20) rotate(-90)" class="al" textLength="52.0" lengthAdjust="spacingAndGlyphs">RMSE/m</text>
<path d="M35.80 204.40H48.60" stroke="#CD2A22" stroke-width="1.1"/>
<path d="M42.20 202.40l2.1 3.6h-4.2z" fill="#CD2A22"/>
<path d="M35.80 214.90H48.60" stroke="#1B92C0" stroke-width="1.6"/>
<text x="51.30" y="210.20" class="lg" textLength="97.5" lengthAdjust="spacingAndGlyphs">Depth adjustment</text>
<text x="51.30" y="221.00" class="lg" textLength="58.5" lengthAdjust="spacingAndGlyphs">Node fixed</text>
<text x="85.20" y="381.50" class="cap" textLength="61.9" lengthAdjust="spacingAndGlyphs"><tspan font-weight="bold">(c)</tspan> 1.5 <tspan class="x">×</tspan> 10<tspan class="sup" dy="-4.8">−4</tspan></text></g>
<g><polyline points="336.9,345.4 337.9,345.4 338.9,345.3 339.9,345.2 340.9,345.1 341.9,345.0 342.8,344.9 343.8,344.8 344.8,344.7 345.8,344.6 346.8,344.5 347.8,344.4 348.8,344.3 349.8,344.2 350.8,344.1 351.8,344.0 352.7,343.9 353.7,343.7 354.7,343.6 355.7,343.5 356.7,343.4 357.7,343.3 358.7,343.2 359.7,343.1 360.7,342.9 361.7,342.8 362.7,342.7 363.6,342.5 364.6,342.4 365.6,342.2 366.6,342.1 367.6,341.9 368.6,341.7 369.6,341.5 370.6,341.3 371.6,341.1 372.6,340.9 373.5,340.7 374.5,340.4 375.5,340.2 376.5,339.9 377.5,339.6 378.5,339.4 379.5,339.1 380.5,338.8 381.5,338.5 382.5,338.2 383.5,337.9 384.4,337.6 385.4,337.3 386.4,337.0 387.4,336.7 388.4,336.4 389.4,336.0 390.4,335.7 391.4,335.3 392.4,334.9 393.4,334.6 394.3,334.2 395.3,333.8 396.3,333.4 397.3,333.0 398.3,332.6 399.3,332.2 400.3,331.7 401.3,331.3 402.3,330.8 403.3,330.4 404.3,329.9 405.2,329.5 406.2,329.0 407.2,328.5 408.2,328.0 409.2,327.5 410.2,327.1 411.2,326.6 412.2,326.1 413.2,325.6 414.2,325.0 415.1,324.5 416.1,324.0 417.1,323.4 418.1,322.9 419.1,322.3 420.1,321.8 421.1,321.2 422.1,320.6 423.1,320.0 424.1,319.4 425.1,318.8 426.0,318.2 427.0,317.6 428.0,317.0 429.0,316.4 430.0,315.8 431.0,315.2 432.0,314.6 433.0,314.0 434.0,313.5 435.0,312.9 435.9,312.3 436.9,311.7 437.9,311.2 438.9,310.6 439.9,310.0 440.9,309.5 441.9,308.9 442.9,308.4 443.9,307.8 444.9,307.3 445.9,306.7 446.8,306.2 447.8,305.6 448.8,305.1 449.8,304.5 450.8,304.0 451.8,303.5 452.8,302.9 453.8,302.4 454.8,301.8 455.8,301.3 456.8,300.8 457.7,300.2 458.7,299.7 459.7,299.2 460.7,298.6 461.7,298.1 462.7,297.6 463.7,297.1 464.7,296.6 465.7,296.0 466.7,295.5 467.6,295.0 468.6,294.5 469.6,294.0 470.6,293.4 471.6,292.9 472.6,292.4 473.6,291.9 474.6,291.4 475.6,290.9 476.6,290.3 477.6,289.8 478.5,289.3 479.5,288.8 480.5,288.3 481.5,287.7 482.5,287.2 483.5,286.7 484.5,286.2 485.5,285.6 486.5,285.1 487.5,284.5 488.4,284.0 489.4,283.4 490.4,282.9 491.4,282.3 492.4,281.7 493.4,281.2 494.4,280.6 495.4,280.0 496.4,279.4 497.4,278.8 498.4,278.2 499.3,277.6 500.3,276.9 501.3,276.3 502.3,275.7 503.3,275.1 504.3,274.5 505.3,273.9 506.3,273.3 507.3,272.7 508.3,272.1 509.2,271.4 510.2,270.8 511.2,270.2 512.2,269.6 513.2,269.0 514.2,268.4 515.2,267.8 516.2,267.2 517.2,266.6 518.2,266.0 519.2,265.4 520.1,264.8 521.1,264.2 522.1,263.6 523.1,263.0 524.1,262.4 525.1,261.8 526.1,261.2 527.1,260.7 528.1,260.1 529.1,259.5 530.0,258.9 531.0,258.3 532.0,257.7 533.0,257.1 534.0,256.5 535.0,255.9" fill="none" stroke="#CD2A22" stroke-width="1.1"/>
<path d="M336.90 343.45l2.1 3.6h-4.2zM340.86 343.06l2.1 3.6h-4.2zM344.82 342.67l2.1 3.6h-4.2zM348.79 342.27l2.1 3.6h-4.2zM352.75 341.85l2.1 3.6h-4.2zM356.71 341.41l2.1 3.6h-4.2zM360.67 340.94l2.1 3.6h-4.2zM364.63 340.39l2.1 3.6h-4.2zM368.60 339.73l2.1 3.6h-4.2zM372.56 338.90l2.1 3.6h-4.2zM376.52 337.91l2.1 3.6h-4.2zM380.48 336.81l2.1 3.6h-4.2zM384.44 335.63l2.1 3.6h-4.2zM388.41 334.35l2.1 3.6h-4.2zM392.37 332.95l2.1 3.6h-4.2zM396.33 331.40l2.1 3.6h-4.2zM400.29 329.72l2.1 3.6h-4.2zM404.25 327.92l2.1 3.6h-4.2zM408.22 326.03l2.1 3.6h-4.2zM412.18 324.06l2.1 3.6h-4.2zM416.14 321.99l2.1 3.6h-4.2zM420.10 319.78l2.1 3.6h-4.2zM424.06 317.44l2.1 3.6h-4.2zM428.03 315.03l2.1 3.6h-4.2zM431.99 312.64l2.1 3.6h-4.2zM435.95 310.30l2.1 3.6h-4.2zM439.91 308.04l2.1 3.6h-4.2zM443.87 305.83l2.1 3.6h-4.2zM447.84 303.63l2.1 3.6h-4.2zM451.80 301.46l2.1 3.6h-4.2zM455.76 299.30l2.1 3.6h-4.2zM459.72 297.17l2.1 3.6h-4.2zM463.68 295.07l2.1 3.6h-4.2zM467.65 293.00l2.1 3.6h-4.2zM471.61 290.93l2.1 3.6h-4.2zM475.57 288.86l2.1 3.6h-4.2zM479.53 286.79l2.1 3.6h-4.2zM483.49 284.70l2.1 3.6h-4.2zM487.46 282.55l2.1 3.6h-4.2zM491.42 280.31l2.1 3.6h-4.2zM495.38 277.97l2.1 3.6h-4.2zM499.34 275.56l2.1 3.6h-4.2zM503.30 273.11l2.1 3.6h-4.2zM507.27 270.66l2.1 3.6h-4.2zM511.23 268.22l2.1 3.6h-4.2zM515.19 265.80l2.1 3.6h-4.2zM519.15 263.41l2.1 3.6h-4.2zM523.11 261.03l2.1 3.6h-4.2zM527.08 258.66l2.1 3.6h-4.2zM531.04 256.29l2.1 3.6h-4.2zM535.00 253.93l2.1 3.6h-4.2z" fill="#CD2A22"/>
<polyline points="336.9,345.4 337.9,345.4 338.9,345.3 339.9,345.3 340.9,345.2 341.9,345.1 342.8,345.1 343.8,345.0 344.8,345.0 345.8,344.9 346.8,344.8 347.8,344.8 348.8,344.7 349.8,344.7 350.8,344.6 351.8,344.5 352.7,344.4 353.7,344.3 354.7,344.2 355.7,344.1 356.7,343.9 357.7,343.8 358.7,343.6 359.7,343.4 360.7,343.3 361.7,343.1 362.7,342.9 363.6,342.7 364.6,342.6 365.6,342.4 366.6,342.2 367.6,342.0 368.6,341.8 369.6,341.6 370.6,341.3 371.6,341.1 372.6,340.8 373.5,340.5 374.5,340.2 375.5,339.9 376.5,339.6 377.5,339.3 378.5,339.0 379.5,338.6 380.5,338.2 381.5,337.8 382.5,337.4 383.5,337.0 384.4,336.5 385.4,336.0 386.4,335.6 387.4,335.1 388.4,334.6 389.4,334.0 390.4,333.5 391.4,332.9 392.4,332.4 393.4,331.8 394.3,331.2 395.3,330.5 396.3,329.9 397.3,329.2 398.3,328.5 399.3,327.8 400.3,327.1 401.3,326.3 402.3,325.6 403.3,324.8 404.3,324.0 405.2,323.2 406.2,322.4 407.2,321.6 408.2,320.8 409.2,319.9 410.2,319.1 411.2,318.3 412.2,317.5 413.2,316.7 414.2,315.9 415.1,315.1 416.1,314.3 417.1,313.5 418.1,312.7 419.1,312.0 420.1,311.2 421.1,310.5 422.1,309.7 423.1,309.0 424.1,308.3 425.1,307.5 426.0,306.8 427.0,306.1 428.0,305.4 429.0,304.6 430.0,303.9 431.0,303.2 432.0,302.5 433.0,301.7 434.0,301.0 435.0,300.2 435.9,299.4 436.9,298.6 437.9,297.8 438.9,297.0 439.9,296.2 440.9,295.3 441.9,294.5 442.9,293.7 443.9,292.9 444.9,292.0 445.9,291.2 446.8,290.4 447.8,289.5 448.8,288.7 449.8,287.9 450.8,287.0 451.8,286.2 452.8,285.4 453.8,284.6 454.8,283.7 455.8,282.9 456.8,282.1 457.7,281.2 458.7,280.4 459.7,279.6 460.7,278.7 461.7,277.9 462.7,277.1 463.7,276.2 464.7,275.4 465.7,274.6 466.7,273.8 467.6,272.9 468.6,272.1 469.6,271.3 470.6,270.4 471.6,269.6 472.6,268.8 473.6,267.9 474.6,267.1 475.6,266.3 476.6,265.5 477.6,264.6 478.5,263.8 479.5,263.0 480.5,262.1 481.5,261.3 482.5,260.5 483.5,259.6 484.5,258.8 485.5,258.0 486.5,257.2 487.5,256.4 488.4,255.6 489.4,254.8 490.4,254.0 491.4,253.2 492.4,252.4 493.4,251.6 494.4,250.8 495.4,250.0 496.4,249.2 497.4,248.4 498.4,247.6 499.3,246.8 500.3,246.0 501.3,245.2 502.3,244.4 503.3,243.6 504.3,242.8 505.3,242.0 506.3,241.2 507.3,240.4 508.3,239.6 509.2,238.8 510.2,238.0 511.2,237.2 512.2,236.4 513.2,235.6 514.2,234.8 515.2,234.0 516.2,233.1 517.2,232.3 518.2,231.5 519.2,230.6 520.1,229.8 521.1,229.0 522.1,228.1 523.1,227.3 524.1,226.4 525.1,225.6 526.1,224.8 527.1,223.9 528.1,223.1 529.1,222.2 530.0,221.4 531.0,220.6 532.0,219.7 533.0,218.9 534.0,218.0 535.0,217.2" fill="none" stroke="#1B92C0" stroke-width="1.9" stroke-linejoin="round"/>
<rect x="336.90" y="197.30" width="198.10" height="148.15" fill="none" stroke="#2a2a2a" stroke-width="1.35"/>
<path d="M356.71 345.45v-1.8M356.71 197.30v1.8M376.52 345.45v-1.8M376.52 197.30v1.8M396.33 345.45v-1.8M396.33 197.30v1.8M416.14 345.45v-1.8M416.14 197.30v1.8M435.95 345.45v-1.8M435.95 197.30v1.8M455.76 345.45v-1.8M455.76 197.30v1.8M475.57 345.45v-1.8M475.57 197.30v1.8M495.38 345.45v-1.8M495.38 197.30v1.8M515.19 345.45v-1.8M515.19 197.30v1.8M336.90 324.29h1.8M535.00 324.29h-1.8M336.90 303.12h1.8M535.00 303.12h-1.8M336.90 281.96h1.8M535.00 281.96h-1.8M336.90 260.79h1.8M535.00 260.79h-1.8M336.90 239.63h1.8M535.00 239.63h-1.8M336.90 218.46h1.8M535.00 218.46h-1.8" stroke="#2a2a2a" stroke-width="1.2" fill="none"/>
<text x="329.60" y="350.55" class="tk" style="font-size:11.0px" text-anchor="middle" textLength="6.0" lengthAdjust="spacingAndGlyphs">0</text>
<text x="329.60" y="329.39" class="tk" style="font-size:11.0px" text-anchor="middle" textLength="6.0" lengthAdjust="spacingAndGlyphs">1</text>
<text x="329.60" y="308.22" class="tk" style="font-size:11.0px" text-anchor="middle" textLength="6.0" lengthAdjust="spacingAndGlyphs">2</text>
<text x="329.60" y="287.06" class="tk" style="font-size:11.0px" text-anchor="middle" textLength="6.0" lengthAdjust="spacingAndGlyphs">3</text>
<text x="329.60" y="265.89" class="tk" style="font-size:11.0px" text-anchor="middle" textLength="6.0" lengthAdjust="spacingAndGlyphs">4</text>
<text x="329.60" y="244.73" class="tk" style="font-size:11.0px" text-anchor="middle" textLength="6.0" lengthAdjust="spacingAndGlyphs">5</text>
<text x="329.60" y="223.56" class="tk" style="font-size:11.0px" text-anchor="middle" textLength="6.0" lengthAdjust="spacingAndGlyphs">6</text>
<text x="329.60" y="202.40" class="tk" style="font-size:11.0px" text-anchor="middle" textLength="6.0" lengthAdjust="spacingAndGlyphs">7</text>
<text x="338.90" y="355.40" class="tk" style="font-size:11.0px" text-anchor="middle" textLength="6.0" lengthAdjust="spacingAndGlyphs">0</text>
<text x="358.80" y="355.40" class="tk" style="font-size:11.0px" text-anchor="middle" textLength="6.0" lengthAdjust="spacingAndGlyphs">5</text>
<text x="376.52" y="355.40" class="tk" style="font-size:11.0px" text-anchor="middle" textLength="12.6" lengthAdjust="spacingAndGlyphs">10</text>
<text x="396.33" y="355.40" class="tk" style="font-size:11.0px" text-anchor="middle" textLength="12.6" lengthAdjust="spacingAndGlyphs">15</text>
<text x="416.14" y="355.40" class="tk" style="font-size:11.0px" text-anchor="middle" textLength="12.6" lengthAdjust="spacingAndGlyphs">20</text>
<text x="435.95" y="355.40" class="tk" style="font-size:11.0px" text-anchor="middle" textLength="12.6" lengthAdjust="spacingAndGlyphs">25</text>
<text x="455.76" y="355.40" class="tk" style="font-size:11.0px" text-anchor="middle" textLength="12.6" lengthAdjust="spacingAndGlyphs">30</text>
<text x="475.57" y="355.40" class="tk" style="font-size:11.0px" text-anchor="middle" textLength="12.6" lengthAdjust="spacingAndGlyphs">35</text>
<text x="495.38" y="355.40" class="tk" style="font-size:11.0px" text-anchor="middle" textLength="12.6" lengthAdjust="spacingAndGlyphs">40</text>
<text x="515.19" y="355.40" class="tk" style="font-size:11.0px" text-anchor="middle" textLength="12.6" lengthAdjust="spacingAndGlyphs">45</text>
<text x="535.00" y="355.40" class="tk" style="font-size:11.0px" text-anchor="middle" textLength="12.6" lengthAdjust="spacingAndGlyphs">50</text>
<text x="418.80" y="365.50" class="al" textLength="37.3" lengthAdjust="spacingAndGlyphs">time/s</text>
<text transform="translate(323.80 299.10) rotate(-90)" class="al" textLength="47.0" lengthAdjust="spacingAndGlyphs">RMSE/m</text>
<path d="M341.00 205.10H355.10" stroke="#CD2A22" stroke-width="1.1"/>
<path d="M348.05 203.10l2.1 3.6h-4.2z" fill="#CD2A22"/>
<path d="M341.00 216.20H355.10" stroke="#1B92C0" stroke-width="1.6"/>
<text x="357.90" y="210.50" class="lg" textLength="103.5" lengthAdjust="spacingAndGlyphs">Depth adjustment</text>
<text x="357.90" y="221.50" class="lg" textLength="61.5" lengthAdjust="spacingAndGlyphs">Node fixed</text>
<text x="393.90" y="382.20" class="cap" textLength="63.6" lengthAdjust="spacingAndGlyphs"><tspan font-weight="bold">(d)</tspan> 2.5 <tspan class="x">×</tspan> 10<tspan class="sup" dy="-4.8">−4</tspan></text></g>
</svg></body></html>
